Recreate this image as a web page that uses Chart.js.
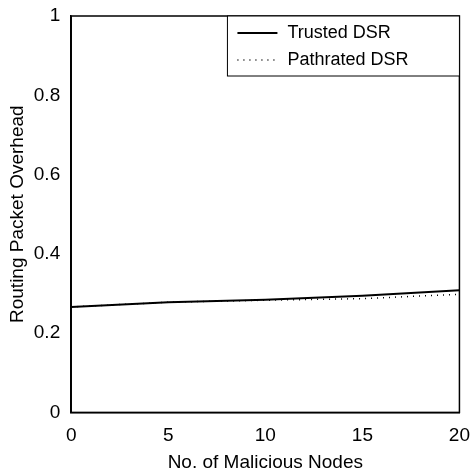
<!DOCTYPE html>
<html><head><script src="https://cdn.jsdelivr.net/npm/chart.js@4"></script>
<style>body{margin:0;background:#fff}#c{width:474px;height:474px}</style></head>
<body><div id="c"><canvas id="chart" width="474" height="474"></canvas></div>
<script>
const nodes = [0, 5, 10, 15, 20];
const trusted = [0.266, 0.278, 0.284, 0.294, 0.308];
const pathrated = [0.266, 0.278, 0.283, 0.287, 0.298];
const seriesNames = ['Trusted DSR', 'Pathrated DSR'];
const font = 'Liberation Sans';

new Chart(document.getElementById('chart'), {
  type: 'line',
  data: {
    datasets: [
      {label: seriesNames[0], data: nodes.map((x, i) => ({x, y: trusted[i]})), borderColor: '#000', borderWidth: 2, pointRadius: 0, fill: false},
      {label: seriesNames[1], data: nodes.map((x, i) => ({x, y: pathrated[i]})), borderColor: '#000', borderWidth: 1.5, borderDash: [1, 5], pointRadius: 0, fill: false}
    ]
  },
  options: {
    responsive: false, animation: false,
    layout: {padding: {top: 16, right: 12, left: 4, bottom: 0}},
    plugins: {legend: {display: false}, tooltip: {enabled: false}},
    scales: {
      x: {type: 'linear', min: 0, max: 20, ticks: {stepSize: 5, color: '#000', font: {size: 19, family: font}, padding: 4},
          grid: {display: false}, border: {color: '#000', width: 1.5},
          title: {display: true, text: 'No. of Malicious Nodes', color: '#000', font: {size: 19, family: font}, padding: 0}},
      y: {min: 0, max: 1, ticks: {stepSize: 0.2, color: '#000', font: {size: 19, family: font}, callback: v => +v.toFixed(1)},
          grid: {display: false}, border: {color: '#000', width: 1.5},
          title: {display: true, text: 'Routing Packet Overhead', color: '#000', font: {size: 19, family: font}, padding: 2}}
    }
  },
  plugins: [{
    id: 'frame',
    afterDraw(c) {
      const a = c.chartArea, ctx = c.ctx;
      ctx.save(); ctx.strokeStyle = '#000'; ctx.lineWidth = 1.5;
      ctx.strokeRect(a.left, a.top, a.right - a.left, a.bottom - a.top);
      // legend box in the top-right corner
      const w = 232, h = 60, x0 = a.right - w, y0 = a.top;
      ctx.fillStyle = '#fff'; ctx.fillRect(x0, y0, w, h);
      ctx.lineWidth = 1; ctx.strokeRect(x0, y0, w, h);
      ctx.font = '18px ' + font; ctx.fillStyle = '#000'; ctx.textBaseline = 'middle';
      c.data.datasets.forEach((ds, i) => {
        const y = y0 + 17 + i * 27;
        ctx.lineWidth = ds.borderWidth; ctx.setLineDash(ds.borderDash || []);
        ctx.beginPath(); ctx.moveTo(x0 + 10, y); ctx.lineTo(x0 + 50, y); ctx.stroke();
        ctx.setLineDash([]);
        ctx.fillText(seriesNames[i], x0 + 60, y);
      });
      ctx.restore();
    }
  }]
});
</script></body></html>
